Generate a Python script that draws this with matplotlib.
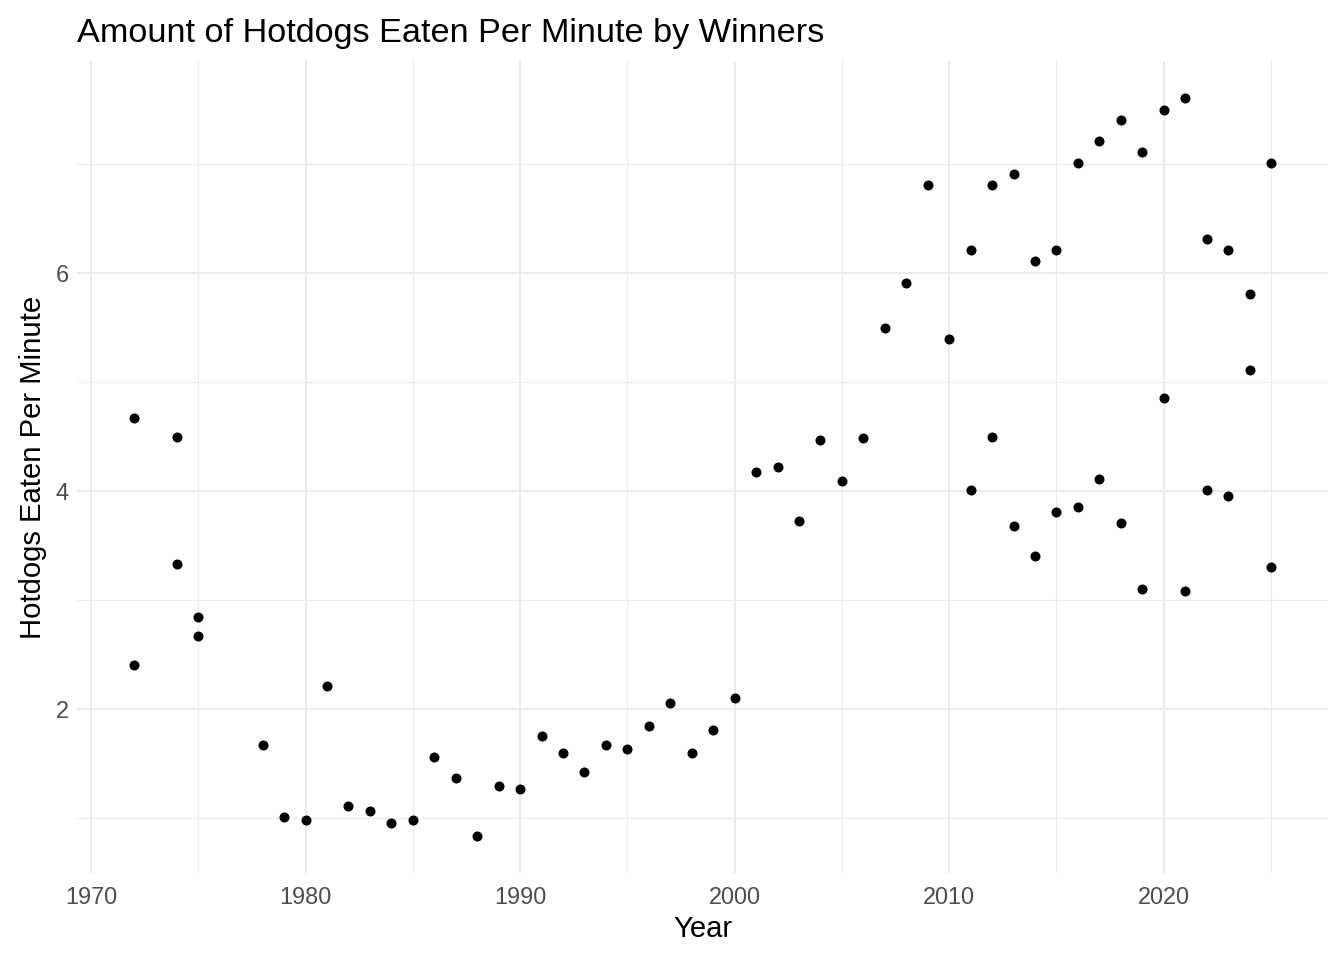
import matplotlib.pyplot as plt
from matplotlib.ticker import MultipleLocator

plt.rcParams['font.family'] = ['Liberation Sans', 'DejaVu Sans']

# winners per year (some years have a men's and a women's winner)
years = [1972, 1972, 1974, 1974, 1975, 1975, 1978, 1979, 1980, 1981,
         1982, 1983, 1984, 1985, 1986, 1987, 1988, 1989, 1990, 1991,
         1992, 1993, 1994, 1995, 1996, 1997, 1998, 1999, 2000, 2001,
         2002, 2003, 2004, 2005, 2006, 2007, 2008, 2009, 2010,
         2011, 2011, 2012, 2012, 2013, 2013, 2014, 2014, 2015, 2015,
         2016, 2016, 2017, 2017, 2018, 2018, 2019, 2019, 2020, 2020,
         2021, 2021, 2022, 2022, 2023, 2023, 2024, 2024, 2025, 2025]
per_minute = [4.67, 2.40, 4.50, 3.33, 2.84, 2.67, 1.67, 1.01, 0.98, 2.21,
              1.11, 1.06, 0.95, 0.98, 1.56, 1.36, 0.83, 1.29, 1.26, 1.75,
              1.59, 1.42, 1.67, 1.63, 1.84, 2.05, 1.59, 1.80, 2.10, 4.17,
              4.22, 3.72, 4.47, 4.09, 4.49, 5.50, 5.91, 6.81, 5.40,
              6.21, 4.01, 6.81, 4.50, 6.91, 3.68, 6.11, 3.40, 6.21, 3.81,
              7.01, 3.85, 7.21, 4.11, 7.41, 3.71, 7.11, 3.10, 7.50, 4.85,
              7.61, 3.08, 6.31, 4.01, 6.21, 3.95, 5.81, 5.11, 7.01, 3.30]

fig = plt.figure(figsize=(13.44, 9.6), dpi=100)
ax = fig.add_axes([0.0573, 0.0906, 0.9307, 0.8459])

ax.scatter(years, per_minute, s=52, color='black', linewidths=0, zorder=3)

# ggplot-style 5% padding
xmin, xmax = min(years), max(years)
ymin, ymax = min(per_minute), max(per_minute)
xpad = (xmax - xmin) * 0.05
ypad = (ymax - ymin) * 0.05
ax.set_xlim(xmin - xpad, xmax + xpad)
ax.set_ylim(ymin - ypad, ymax + ypad)

ax.xaxis.set_major_locator(MultipleLocator(10))
ax.xaxis.set_minor_locator(MultipleLocator(5))
ax.yaxis.set_major_locator(MultipleLocator(2))
ax.yaxis.set_minor_locator(MultipleLocator(1))

ax.grid(which='major', color='#EBEBEB', linewidth=1.5)
ax.grid(which='minor', color='#EBEBEB', linewidth=0.8)
ax.set_axisbelow(True)
for s in ax.spines.values():
    s.set_visible(False)
ax.tick_params(which='both', length=0)
ax.tick_params(labelsize=16.9, labelcolor='#4D4D4D')
ax.tick_params(axis='x', pad=9)
ax.tick_params(axis='y', pad=6)

ax.set_xlabel('Year', fontsize=21.1, labelpad=5)
ax.set_ylabel('Hotdogs Eaten Per Minute', fontsize=21.1, labelpad=6)
ax.set_title('Amount of Hotdogs Eaten Per Minute by Winners', fontsize=24.7,
             loc='left', pad=14)

fig.savefig('out.png', dpi=100, facecolor='white')
